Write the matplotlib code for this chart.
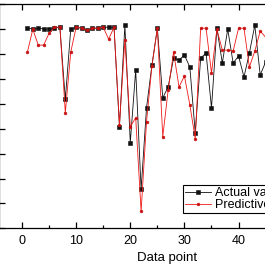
import matplotlib
matplotlib.use("Agg")
import matplotlib.pyplot as plt
from matplotlib.ticker import MultipleLocator

# Data (x = data point index)
points = list(range(1, 46))
actual = [80.4, 80.1, 80.4, 80.1, 80.0, 80.4, 80.8, 51.8, 80.0, 80.8,
          80.4, 79.6, 80.4, 80.4, 80.8, 80.8, 80.8, 40.8, 81.6, 34.4,
          63.6, 15.6, 48.4, 65.6, 80.4, 52.4, 56.8, 68.4, 67.6, 69.6,
          64.8, 38.4, 68.4, 70.4, 48.4, 80.4, 66.4, 80.0, 66.4, 69.2,
          60.8, 70.4, 81.6, 61.6, 66.8]
predicted = [70.8, 80.0, 73.6, 73.6, 78.4, 80.8, 80.8, 46.4, 70.8, 80.8,
             80.4, 79.6, 80.4, 80.4, 80.8, 76.0, 80.8, 41.6, 75.6, 40.8,
             44.4, 6.8, 42.8, 65.2, 80.4, 36.8, 55.6, 70.8, 56.8, 61.2,
             49.6, 36.0, 80.4, 80.4, 62.4, 80.0, 71.6, 71.6, 71.2, 80.4,
             80.4, 64.8, 71.2, 79.2, 76.8]
x_ticks = [0, 10, 20, 30, 40, 50]

plt.rcParams['font.family'] = ['Liberation Sans', 'DejaVu Sans']

W = 265.0
fig = plt.figure(figsize=(2.65, 2.65), dpi=100)
# the reference is a crop: left spine sits just off the canvas, right side runs past it
left, right = -1.0 / W, 336.0 / W
bottom, top = (W - 228.3) / W, (W - 4.3) / W
ax = fig.add_axes([left, bottom, right - left, top - bottom])

ax.plot(points, actual, color='#111111', lw=0.6, marker='s', ms=2.2, mew=0.4,
        label='Actual value')
ax.plot(points, predicted, color='#f01818', lw=0.6, marker='o', ms=2.0, mew=0.4,
        mfc='#c81010', mec='#c81010', label='Predictive value')

ax.set_xlim(-4.25, 58)
ax.set_ylim(0, 90)
ax.set_xticks(x_ticks)
ax.xaxis.set_minor_locator(MultipleLocator(5))
ax.yaxis.set_major_locator(MultipleLocator(10))
ax.tick_params(which='both', direction='in', top=True, right=True, labelsize=9, pad=5)
ax.tick_params(which='major', length=4, width=0.9)
ax.tick_params(which='minor', length=2, width=0.9)
for s in ax.spines.values():
    s.set_linewidth(0.9)

ax.set_xlabel('Data point', fontsize=9.5, labelpad=3.5)

ax.legend(loc='upper left', bbox_to_anchor=(183.3 / W, 1 - 185.0 / W),
          bbox_transform=fig.transFigure, borderaxespad=0, fontsize=9,
          frameon=True, fancybox=False, edgecolor='black', framealpha=1,
          borderpad=0.15, labelspacing=0.05, handlelength=2.1, handletextpad=0.3)
ax.get_legend().get_frame().set_linewidth(0.8)

fig.savefig('out.png', dpi=100)
